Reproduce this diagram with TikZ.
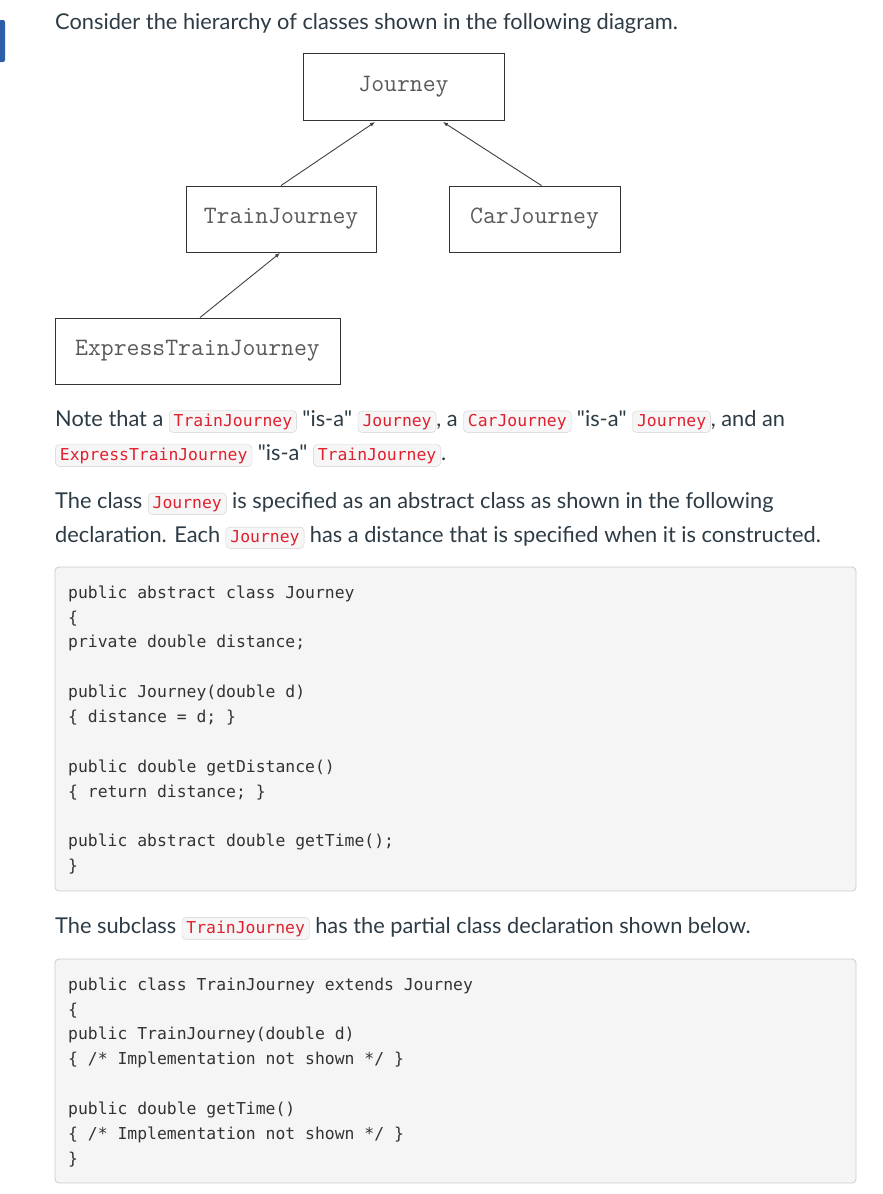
\documentclass[tikz,border=0pt]{standalone}
\usepackage{fontspec}
\setmainfont{Lato}
\newfontfamily\codef{DejaVu Sans Mono}
\usetikzlibrary{arrows.meta}
\definecolor{chipred}{HTML}{E0202E}
\definecolor{chipbg}{HTML}{F6F6F6}
\definecolor{chipbd}{HTML}{D0D0D0}
\definecolor{txt}{HTML}{2D3B45}
\definecolor{codebg}{HTML}{F5F5F5}
\definecolor{codebd}{HTML}{CCCCCC}
\newcommand\chip[1]{\tikz[baseline=(c.base)]\node[draw=chipbd,fill=chipbg,rounded corners=4pt,inner xsep=4.5pt,inner ysep=3pt,text=chipred,font=\codef\fontsize{16.4}{18}\selectfont](c){#1};}
\newcommand\qq{\textquotedbl}
\tikzset{
 cls/.style={draw=black!80,line width=0.9pt,inner sep=0pt,font=\ttfamily\fontsize{25}{27}\selectfont,text=black!65},
 prose/.style={anchor=base west,inner sep=0pt,font=\fontsize{21.8}{34}\selectfont,text=txt},
 codebox/.style={draw=codebd,fill=codebg,rounded corners=4pt,line width=0.8pt},
 code/.style={anchor=base west,inner sep=0pt,font=\codef\fontsize{16.4}{18}\selectfont,text=black!80},
 inh/.style={-{Latex[length=5pt,width=4pt]},draw=black!75,line width=0.9pt}
}
\begin{document}
\begin{tikzpicture}[x=1pt,y=-1pt]
\useasboundingbox (0,0) rectangle (883,1194);
\fill[fill={rgb,255:red,45;green,95;blue,168},rounded corners=2pt] (-4,20) rectangle (5,62);
\node[prose] (t0) at (55,29) {Consider the hierarchy of classes shown in the following diagram.};
% diagram
\node[cls,minimum width=201,minimum height=67] (J) at (403.5,86.5) {Journey};
\node[cls,minimum width=190,minimum height=66] (T) at (281,219) {TrainJourney};
\node[cls,minimum width=171,minimum height=66] (C) at (534.5,219) {CarJourney};
\node[cls,minimum width=285,minimum height=66] (E) at (197.5,351) {ExpressTrainJourney};
\coordinate (tj) at (375,122); \coordinate (cj) at (443,122); \coordinate (et) at (280,253);
\draw[inh] (T.north) -- (tj);
\draw[inh] (C.north) ++(7,0) -- (cj);
\draw[inh] (E.north) ++(2.5,0) -- (et);
% prose
\node[prose] (p1) at (55,426) {Note that a \chip{TrainJourney} \qq is-a\qq{} \chip{Journey}, a \chip{CarJourney} \qq is-a\qq{} \chip{Journey}, and an};
\node[prose] (p2) at (55,460) {\chip{ExpressTrainJourney} \qq is-a\qq{} \chip{TrainJourney}.};
\node[prose] (p3) at (55,508) {The class \chip{Journey} is specified as an abstract class as shown in the following};
\node[prose] (p4) at (55,542) {declaration. Each \chip{Journey} has a distance that is specified when it is constructed.};
\draw[codebox] (55,567) rectangle (856,891);
\node[code] at (68,598) {public abstract class Journey};
\node[code] at (68,623) {\{};
\node[code] at (68,647) {private double distance;};
\node[code] at (68,697) {public Journey(double d)};
\node[code] at (68,722) {\{ distance = d; \}};
\node[code] at (68,772) {public double getDistance()};
\node[code] at (68,797) {\{ return distance; \}};
\node[code] at (68,846) {public abstract double getTime();};
\node[code] at (68,871) {\}};
\node[prose] (p5) at (55,933) {The subclass \chip{TrainJourney} has the partial class declaration shown below.};
\draw[codebox] (55,959) rectangle (856,1183);
\node[code] at (68,990) {public class TrainJourney extends Journey};
\node[code] at (68,1015) {\{};
\node[code] at (68,1039) {public TrainJourney(double d)};
\node[code] at (68,1064) {\{ /* Implementation not shown */ \}};
\node[code] at (68,1114) {public double getTime()};
\node[code] at (68,1139) {\{ /* Implementation not shown */ \}};
\node[code] at (68,1164) {\}};
\end{tikzpicture}
\end{document}
